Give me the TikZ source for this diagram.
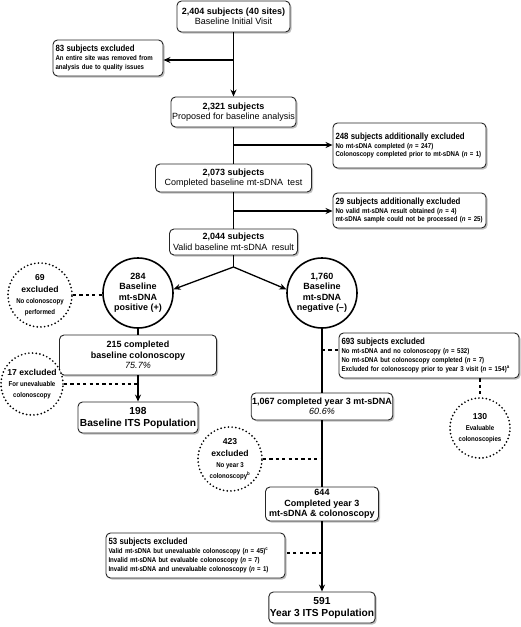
\documentclass[tikz,border=0pt]{standalone}
\usepackage{fontspec}
\setmainfont{Liberation Sans}
\newfontfamily\nfont{Liberation Sans}[FakeStretch=0.87]
\usetikzlibrary{shadows,arrows.meta}
\newcommand\tnine{\fontsize{9}{10.5}\selectfont}
\newcommand\tten{\fontsize{10.2}{12}\selectfont}
\newcommand\tsmall{\nfont\fontsize{7}{8.8}\selectfont\bfseries}
\newcommand\tcs{\nfont\fontsize{7}{7.8}\selectfont\bfseries}
\newcommand\tex{\fontsize{8.6}{10}\selectfont\bfseries}
\begin{document}
\begin{tikzpicture}[x=1pt,y=-1pt,
  box/.style={draw=black!85, line width=0.9pt, rounded corners=4.5pt, fill=white,
    drop shadow={shadow xshift=1.6pt, shadow yshift=-1.6pt, fill=black!50},
    align=center, inner sep=1pt, font=\tnine},
  exbox/.style={box, align=left, inner xsep=2.5pt, text width=#1, font=\tsmall},
  circ/.style={circle, draw, line width=1.6pt, fill=white, minimum size=70pt, inner sep=0pt, align=center, font=\tnine\bfseries},
  dcirc/.style={circle, draw, line width=1.9pt, dash pattern=on 0pt off 3.7pt, line cap=round, fill=white, inner sep=0pt, align=center, minimum size=#1},
  spine/.style={line width=1.5pt},
  arr/.style={line width=1.3pt, -{Stealth[length=7pt,width=6pt]}},
  dsh/.style={line width=1.3pt, dash pattern=on 3.2pt off 3.2pt}
]
\useasboundingbox (0,0) rectangle (520,627);

% main boxes
\node[box, minimum width=113pt, minimum height=31pt] (b1) at (233.5,16.5) {\textbf{2,404 subjects (40 sites)}\\Baseline Initial Visit};
\node[box, minimum width=125pt, minimum height=30pt] (b2) at (233.5,112) {\textbf{2,321 subjects}\\Proposed for baseline analysis};
\node[box, minimum width=156pt, minimum height=28pt] (b3) at (233.5,178) {\textbf{2,073 subjects}\\Completed baseline mt-sDNA\hspace{2pt} test};
\node[box, minimum width=128pt, minimum height=26pt] (b4) at (233.5,242) {\textbf{2,044 subjects}\\Valid baseline mt-sDNA\hspace{2pt} result};

% exclusion boxes
\node[exbox=105pt, minimum height=36pt] (ex1) at (108,58) {{\tnine\bfseries 83 subjects excluded}\\An entire site was removed from\\analysis due to quality issues};
\node[exbox=148pt, minimum height=45pt] (ex2) at (409.5,145.5) {{\tnine\bfseries 248 subjects additionally excluded}\\No mt-sDNA completed (\textit{n} = 247)\\Colonoscopy completed prior to mt-sDNA (\textit{n} = 1)};
\node[exbox=148pt, minimum height=35pt] (ex3) at (409.5,210.5) {{\tnine\bfseries 29 subjects additionally excluded}\\No valid mt-sDNA result obtained (\textit{n} = 4)\\mt-sDNA sample could not be processed (\textit{n} = 25)};

% circles
\node[circ] (c284) at (138,293) {284\\Baseline\\mt-sDNA\\positive (+)};
\node[circ] (c1760) at (322,293) {1,760\\Baseline\\mt-sDNA\\negative (--)};

\node[dcirc=64pt] (d69) at (40,295) {{\tex 69}\\{\tex excluded}\\[-1pt]{\tcs No colonoscopy}\\[-1.5pt]{\tcs performed}};

% left branch
\node[box, minimum width=157pt, minimum height=40pt, font=\tnine\bfseries] (b215) at (138,355) {215 completed\\baseline colonoscopy\\{\mdseries\itshape 75.7\%}};
\node[dcirc=62pt] (d17) at (32,384) {{\tex 17 excluded}\\[-1pt]{\tcs For unevaluable}\\[-1.5pt]{\tcs colonoscopy}};
\node[box, minimum width=120pt, minimum height=31pt, font=\tten\bfseries] (b198) at (138,417.5) {198\\Baseline ITS Population};

% right branch
\node[exbox=175pt, minimum height=45pt] (ex693) at (429,355.5) {{\tnine\bfseries 693 subjects excluded}\\No mt-sDNA and no colonoscopy (\textit{n} = 532)\\No mt-sDNA but colonoscopy completed (\textit{n} = 7)\\Excluded for colonoscopy prior to year 3 visit (\textit{n} = 154)\textsuperscript{a}};
\node[dcirc=60pt] (d130) at (480,428) {{\tex 130}\\[-1pt]{\tcs Evaluable}\\[-1.5pt]{\tcs colonoscopies}};
\node[box, minimum width=141pt, minimum height=27pt, font=\tnine\bfseries] (b1067) at (322,406.5) {1,067 completed year 3 mt-sDNA\\{\mdseries\itshape 60.6\%}};
\node[dcirc=64pt] (d423) at (230,459) {{\tex 423}\\{\tex excluded}\\[-1pt]{\tcs No year 3}\\[-1.5pt]{\tcs colonoscopy\textsuperscript{b}}};
\node[box, minimum width=113pt, minimum height=34pt, font=\tnine\bfseries] (b644) at (322,504) {644\\Completed year 3\\mt-sDNA \& colonoscopy};
\node[exbox=174pt, minimum height=45pt] (ex53) at (195.5,555.5) {{\tnine\bfseries 53 subjects excluded}\\Valid mt-sDNA but unevaluable colonoscopy (\textit{n} = 45)\textsuperscript{c}\\Invalid mt-sDNA but evaluable colonoscopy (\textit{n} = 7)\\Invalid mt-sDNA and unevaluable colonoscopy (\textit{n} = 1)};
\node[box, minimum width=106pt, minimum height=31pt, font=\tten\bfseries] (b591) at (322,607.5) {591\\Year 3 ITS Population};

% connectors top
\draw[spine, arr] (b1.south) -- (b2.north);
\coordinate (j1) at (233.5,60);
\draw[arr] (j1) -- (j1 -| ex1.east);
\draw[spine] (b2.south) -- (b3.north);
\coordinate (j2) at (233.5,145);
\draw[arr] (j2) -- (j2 -| ex2.west);
\draw[spine] (b3.south) -- (b4.north);
\coordinate (j3) at (233.5,211);
\draw[arr] (j3) -- (j3 -| ex3.west);
\coordinate (f) at (233.5,267);
\draw[spine] (b4.south) -- (f);
\draw[arr] (f) -- (c284.6);
\draw[arr] (f) -- (c1760.174);

% left
\draw[dsh] (d69.east) -- (d69.east -| c284.west);
\draw[spine] (c284.south) -- (b215.north);
\draw[spine, arr] (b215.south) -- (b198.north);
\coordinate (j17) at (138,384);
\draw[dsh] (d17.east) -- (j17);

% right
\draw[spine] (c1760.south) -- (b1067.north);
\coordinate (j693) at (322,350);
\draw[dsh] (j693) -- (j693 -| ex693.west);
\draw[dsh] (ex693.south -| d130.north) -- (d130.north);
\draw[spine] (b1067.south) -- (b644.north);
\coordinate (j423) at (322,459);
\draw[dsh] (d423.east) -- (j423);
\draw[spine, arr] (b644.south) -- (b591.north);
\coordinate (j53) at (322,553);
\draw[dsh] (j53) -- (j53 -| ex53.east);
\end{tikzpicture}
\end{document}
